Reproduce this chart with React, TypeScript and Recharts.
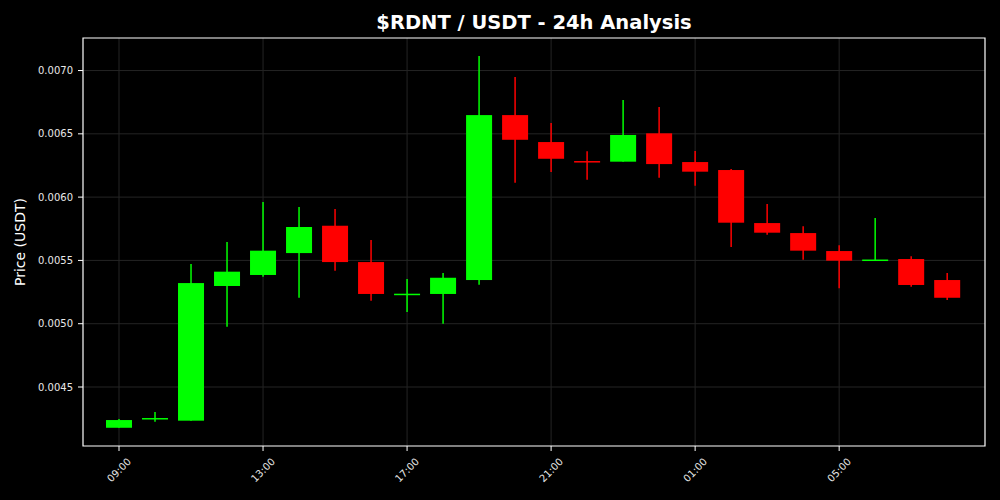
import React from 'react';
import {
  ComposedChart, Bar, XAxis, YAxis, CartesianGrid, ReferenceArea,
} from 'recharts';

const hours = ['09:00','10:00','11:00','12:00','13:00','14:00','15:00','16:00','17:00','18:00','19:00','20:00','21:00','22:00','23:00','00:00','01:00','02:00','03:00','04:00','05:00','06:00','07:00','08:00'];
const opens = [0.004178,0.004250,0.004234,0.005298,0.005385,0.005558,0.005774,0.005487,0.005233,0.005235,0.005345,0.006648,0.006435,0.006285,0.006280,0.006504,0.006277,0.006214,0.005795,0.005716,0.005574,0.005503,0.005511,0.005345];
const highs = [0.004247,0.004303,0.005472,0.005645,0.005961,0.005922,0.005906,0.005661,0.005353,0.005400,0.007115,0.006949,0.006585,0.006362,0.006767,0.006712,0.006364,0.006222,0.005945,0.005769,0.005619,0.005835,0.005532,0.005400];
const lows = [0.004178,0.004226,0.004234,0.004976,0.005371,0.005205,0.005419,0.005182,0.005092,0.005000,0.005308,0.006114,0.006198,0.006138,0.006280,0.006153,0.006090,0.005606,0.005703,0.005506,0.005280,0.005495,0.005292,0.005187];
const closes = [0.004239,0.004255,0.005321,0.005411,0.005577,0.005764,0.005487,0.005235,0.005237,0.005363,0.006648,0.006453,0.006303,0.006280,0.006491,0.006261,0.006201,0.005798,0.005719,0.005577,0.005498,0.005507,0.005306,0.005205];

const xTicks = [0, 4, 8, 12, 16, 20];
const yTicks = [0.0045, 0.005, 0.0055, 0.006, 0.0065, 0.007];
const yDomain = [0.004034, 0.007257];
const xDomain = [-1, 24.05];

const data = hours.map((h, i) => ({
  t: i,
  label: h,
  open: opens[i],
  high: highs[i],
  low: lows[i],
  close: closes[i],
  range: [lows[i], highs[i]],
}));

const GREEN = '#00ff00';
const RED = '#ff0000';

const Candle = (props: any) => {
  const { x, y, width, height, payload } = props;
  if (!payload) return null;
  const { open, close, high, low } = payload;
  const span = high - low;
  const toY = (v: number) => y + ((high - v) / span) * height;
  const color = close >= open ? GREEN : RED;
  const cx = x + width / 2;
  const top = toY(Math.max(open, close));
  const bot = toY(Math.min(open, close));
  const bh = Math.max(bot - top, 1.5);
  return (
    <g>
      <line x1={cx} x2={cx} y1={y} y2={y + height} stroke={color} strokeWidth={1.5} />
      <rect x={x} y={top} width={width} height={bh} fill={color} />
    </g>
  );
};

const XTick = (props: any) => {
  const { x, y, payload } = props;
  const cy = y + 17;
  return (
    <text x={x} y={cy} transform={`rotate(-45, ${x}, ${cy})`} textAnchor="middle" dominantBaseline="central" fill="#e8e8e8" fontSize={10} fontFamily="DejaVu Sans">
      {hours[payload.value]}
    </text>
  );
};

const YLabel = (props: any) => {
  const { viewBox } = props;
  const x = viewBox.x - 3;
  const y = viewBox.y + viewBox.height / 2;
  return (
    <text x={x} y={y} transform={`rotate(-90, ${x}, ${y})`} textAnchor="middle" dominantBaseline="central" fill="#ffffff" fontSize={14} fontFamily="DejaVu Sans">
      Price (USDT)
    </text>
  );
};

export default function App() {
  return (
    <div style={{ position: 'absolute', left: 0, top: 0, width: 1000, height: 500, background: '#000000' }}>
      <div style={{ position: 'absolute', left: 0, width: 1068, top: 11, lineHeight: '24px', textAlign: 'center', color: '#ffffff', fontFamily: 'DejaVu Sans', fontWeight: 'bold', fontSize: 19.5 }}>
        $RDNT / USDT - 24h Analysis
      </div>
      <ComposedChart
        width={1000}
        height={500}
        data={data}
        margin={{ top: 38, right: 15, bottom: 4, left: 23 }}
        style={{ position: 'absolute', left: 0, top: 0 }}
      >
        <CartesianGrid stroke="#242424" verticalValues={xTicks} horizontalValues={yTicks} />
        <XAxis
          dataKey="t"
          type="number"
          domain={xDomain}
          ticks={xTicks}
          allowDataOverflow
          height={50}
          tickSize={5}
          tickMargin={2}
          stroke="#ffffff"
          tickLine={{ stroke: '#ffffff' }}
          axisLine={false}
          tick={<XTick />}
          interval={0}
        />
        <YAxis
          type="number"
          domain={yDomain}
          ticks={yTicks}
          allowDataOverflow
          width={60}
          tickSize={5}
          tickMargin={5}
          axisLine={false}
          tickLine={{ stroke: '#ffffff' }}
          tick={{ fill: '#e8e8e8', fontSize: 10, fontFamily: 'DejaVu Sans' }}
          tickFormatter={(v: number) => v.toFixed(4)}
          interval={0}
          label={<YLabel />}
        />
        <Bar dataKey="range" barSize={26} shape={<Candle />} isAnimationActive={false} />
        <ReferenceArea x1={xDomain[0]} x2={xDomain[1]} y1={yDomain[0]} y2={yDomain[1]} fill="none" stroke="#ffffff" strokeOpacity={1} strokeWidth={1.2} ifOverflow="visible" />
      </ComposedChart>
    </div>
  );
}
